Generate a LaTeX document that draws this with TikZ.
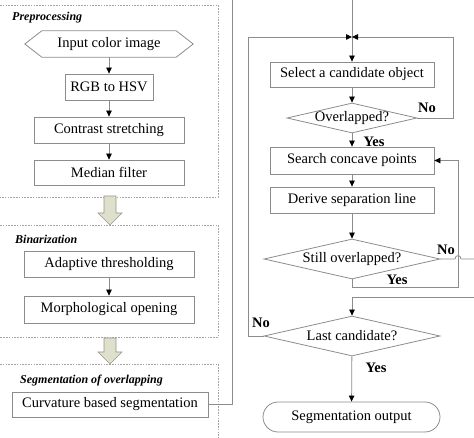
\documentclass[tikz,border=0pt]{standalone}
\usepackage{fontspec}
\setmainfont{Liberation Serif}
\usetikzlibrary{arrows.meta,shapes.geometric,shapes.misc}
\definecolor{linegray}{RGB}{140,140,140}
\definecolor{framegray}{RGB}{165,165,165}
\definecolor{arrowfill}{RGB}{222,224,204}
\definecolor{arrowline}{RGB}{150,150,140}
\begin{document}
\begin{tikzpicture}[x=1pt,y=-1pt,
  font=\fontsize{14.5}{17}\selectfont,
  box/.style={draw=linegray, line width=0.8pt, inner sep=0pt, rectangle},
  dia/.style={draw=linegray, line width=0.8pt, inner sep=0pt, diamond},
  conn/.style={draw=linegray, line width=0.8pt},
  arr/.style={conn, -{Triangle[length=6pt,width=5.5pt,color=black]}},
  frame/.style={draw=framegray, line width=0.6pt, dash pattern=on 1.6pt off 1.2pt},
  grp/.style={font=\fontsize{12}{14}\selectfont\bfseries\itshape, anchor=west, inner sep=0pt},
  lab/.style={font=\fontsize{14.5}{17}\selectfont\bfseries, inner sep=0pt},
  bigarrow/.style={fill=arrowfill, draw=arrowline, line width=0.6pt}]
\useasboundingbox (0,0) rectangle (474,438);

% ---- frames ----
\draw[frame] (0,5) -- (218,5) -- (218,197) -- (0,197);
\draw[frame] (0,225) -- (218,225) -- (218,337) -- (0,337);
\draw[frame] (0,364) -- (218,364) -- (218,440);

\node[grp] (gpre) at (12,18) {Preprocessing};
\node[grp] (gbin) at (15,239) {Binarization};
\node[grp] (gseg) at (20,381) {Segmentation of overlapping};

% ---- big arrows ----
\draw[bigarrow] (104,196) -- (116,196) -- (116,213) -- (122,213) -- (110,225) -- (98,213) -- (104,213) -- cycle;
\draw[bigarrow] (104,338) -- (116,338) -- (116,352) -- (122,352) -- (110,364) -- (98,352) -- (104,352) -- cycle;

% ---- left column ----
\node[minimum width=134pt, minimum height=26pt, inner sep=0pt] (inp) at (109,44) {Input color image};
\draw[linegray, line width=0.8pt] (inp.north west) -- (inp.north east) -- ([xshift=17pt]inp.east) -- (inp.south east) -- (inp.south west) -- ([xshift=-17pt]inp.west) -- cycle;
\node[box, minimum width=88pt, minimum height=26pt] (rgb) at (109,87) {RGB to HSV};
\node[box, minimum width=150pt, minimum height=26pt] (con) at (109,130) {Contrast stretching};
\node[box, minimum width=150pt, minimum height=25pt] (med) at (109,172.5) {Median filter};
\node[box, minimum width=170pt, minimum height=26pt] (ada) at (109,264) {Adaptive thresholding};
\node[box, minimum width=170pt, minimum height=27pt] (mor) at (109,309.5) {Morphological opening};
\node[box, minimum width=196pt, minimum height=25pt] (cur) at (110,404.5) {Curvature based segmentation};

\draw[arr] (inp) -- (rgb);
\draw[arr] (rgb) -- (con);
\draw[arr] (con) -- (med);
\draw[arr] (ada) -- (mor);

\coordinate (topL) at (232,0);
\draw[conn] (cur.east) -| (topL);

% ---- right column ----
\coordinate (topR) at (352,0);
\coordinate (J) at (352,37);
\node[box, minimum width=164pt, minimum height=25pt] (sel) at (352,74.5) {Select a candidate object};
\node[dia, minimum width=130pt, minimum height=30pt] (ovl) at (352,118) {\makebox[0pt]{Overlapped?}};
\node[box, minimum width=164pt, minimum height=27pt] (sea) at (352,160.5) {Search concave points};
\node[box, minimum width=164pt, minimum height=26pt] (der) at (352,200) {Derive separation line};
\node[dia, minimum width=176pt, minimum height=40pt] (sti) at (352,259) {\makebox[0pt]{Still overlapped?}};
\node[dia, minimum width=176pt, minimum height=40pt] (las) at (352,336) {\makebox[0pt]{Last candidate?}};
\node[draw=linegray, line width=0.8pt, rounded rectangle, minimum width=177pt, minimum height=30pt, inner sep=0pt] (out) at (351.5,417) {Segmentation output};

\draw[conn] (topR) -- (J);
\draw[arr] (J) -- (sel);
\draw[arr] (sel) -- (ovl);
\draw[arr] (ovl) -- (sea);
\draw[arr] (sea) -- (der);
\draw[arr] (der) -- (sti);
\draw[arr] (las) -- (out);

% loops
\draw[arr] (ovl.east) -- (453,118) -- (453,37) -- (J);
\draw[arr] (las.west) -- (248,336) -- (248,37) -- (J);
\draw[arr] (sti.south) -- (352,287) -- (458,287) -- (458,160.5) -- (sea.east);
\coordinate (exitR) at (474,259);
\coordinate (entR) at (474,297);
\draw[conn] (sti.east) -- (455,259) .. controls (455,254.5) and (461,254.5) .. (461,259) -- (exitR);
\draw[arr] (entR) -- (352,297) -- (las.north);

% labels
\node[lab] (l1) at (427,108) {No};
\node[lab] (l2) at (374,142) {Yes};
\node[lab] (l3) at (446,250) {No};
\node[lab] (l4) at (397,280) {Yes};
\node[lab] (l5) at (261,323) {No};
\node[lab] (l6) at (376,368) {Yes};
\end{tikzpicture}
\end{document}
